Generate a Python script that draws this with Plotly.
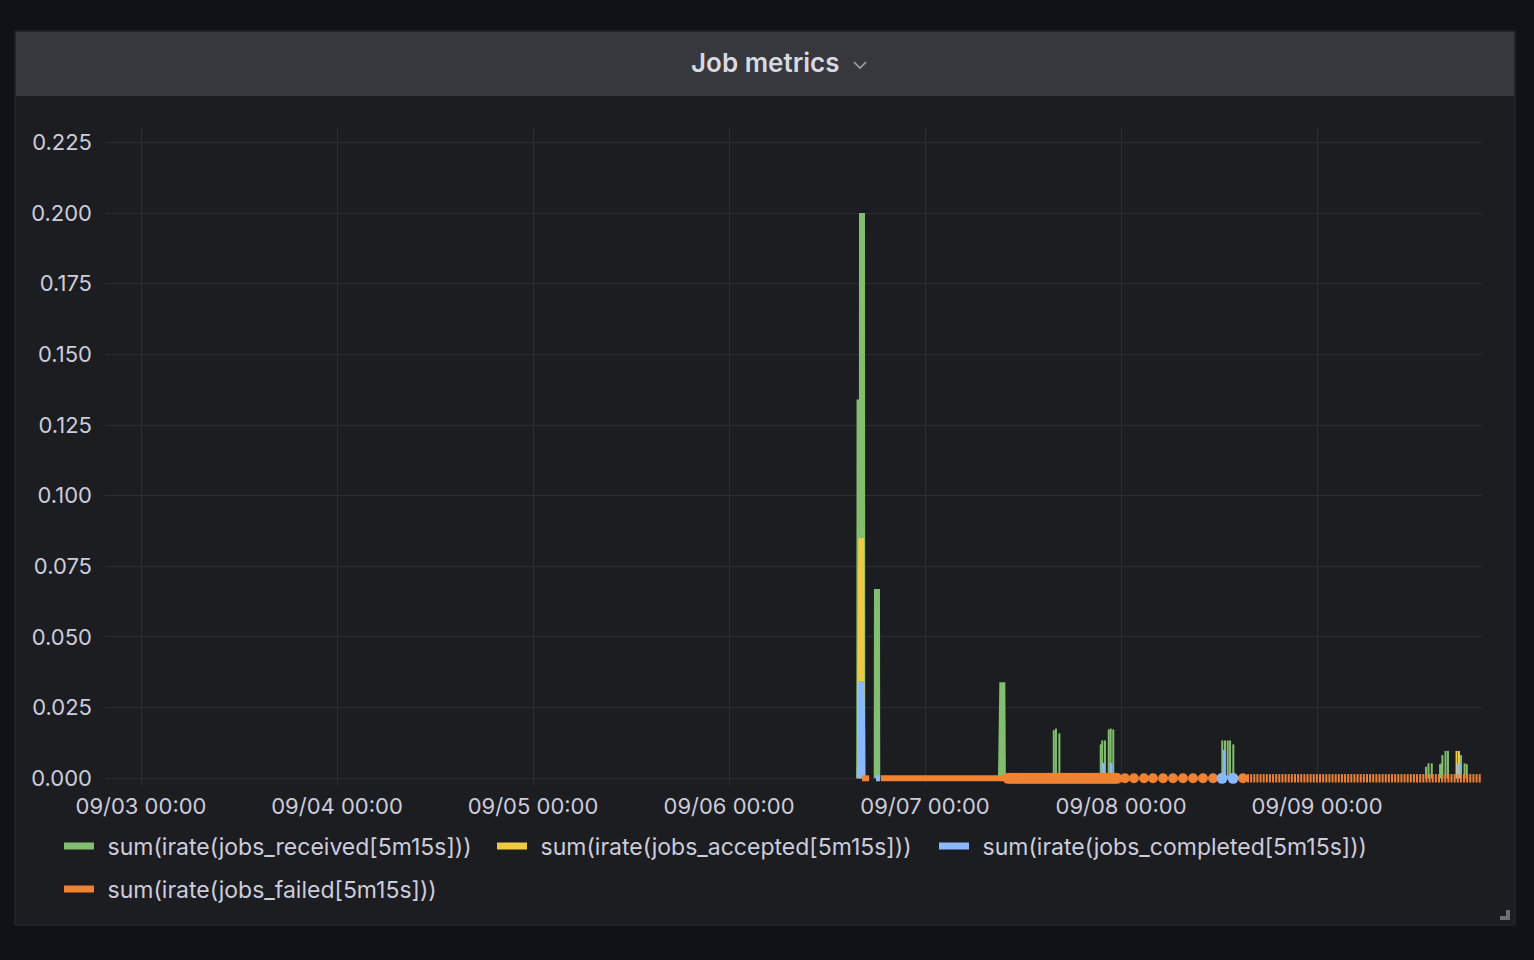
import plotly.graph_objects as go
import pandas as pd

# ---------------- data ----------------
SERIES_NAMES = [
    "sum(irate(jobs_received[5m15s]))",
    "sum(irate(jobs_accepted[5m15s]))",
    "sum(irate(jobs_completed[5m15s]))",
    "sum(irate(jobs_failed[5m15s]))",
]

# jobs_received - main spikes (None = gap in the series)
received_t = ["2023-09-06 15:57", "2023-09-06 15:59", "2023-09-06 16:01", None,
              "2023-09-06 16:15", "2023-09-06 16:17", "2023-09-06 16:19", None,
              "2023-09-06 18:05", "2023-09-06 18:07", "2023-09-06 18:09", None,
              "2023-09-07 09:18", "2023-09-07 09:22", "2023-09-07 09:28", "2023-09-07 09:32"]
received_v = [0, 0.134, 0, None,
              0, 0.200, 0, None,
              0, 0.067, 0, None,
              0, 0.034, 0.034, 0]
# jobs_received - isolated short samples
received_small_t = ["2023-09-07 15:46", "2023-09-07 16:02", "2023-09-07 16:27",
                    "2023-09-07 21:31", "2023-09-07 21:42", "2023-09-07 22:02", "2023-09-07 22:30", "2023-09-07 22:44", "2023-09-07 23:03",
                    "2023-09-08 12:24", "2023-09-08 12:44", "2023-09-08 13:04", "2023-09-08 13:21", "2023-09-08 13:45",
                    "2023-09-09 13:21", "2023-09-09 13:39", "2023-09-09 14:03", "2023-09-09 15:04", "2023-09-09 15:15",
                    "2023-09-09 15:21", "2023-09-09 15:44", "2023-09-09 16:02", "2023-09-09 17:38", "2023-09-09 18:04", "2023-09-09 18:20"]
received_small_v = [0.0170, 0.0176, 0.0159,
                    0.0120, 0.0134, 0.0134, 0.0173, 0.0176, 0.0173,
                    0.0134, 0.0134, 0.0134, 0.0134, 0.0120,
                    0.0041, 0.0053, 0.0053, 0.0050, 0.0053,
                    0.0082, 0.0097, 0.0097, 0.0082, 0.0053, 0.0050]

# jobs_accepted
accepted_t = ["2023-09-06 16:00", "2023-09-06 16:02", "2023-09-06 16:12", "2023-09-06 16:14"]
accepted_v = [0, 0.085, 0.085, 0]
accepted_small_t = ["2023-09-09 17:05", "2023-09-09 17:23"]
accepted_small_v = [0.0097, 0.0097]

# jobs_completed
completed_t = ["2023-09-06 16:00", "2023-09-06 16:02", "2023-09-06 16:12", "2023-09-06 16:18", "2023-09-06 16:20", None,
               "2023-09-06 18:00", "2023-09-06 18:30"]
completed_v = [0, 0.0344, 0.0344, 0.0165, 0, None,
               0, 0]
completed_small_t = ["2023-09-07 21:45", "2023-09-07 21:52", "2023-09-07 22:44", "2023-09-07 22:50",
                     "2023-09-08 12:37", "2023-09-09 17:12", "2023-09-09 17:27"]
completed_small_v = [0.0054, 0.0054, 0.0054, 0.0054, 0.0100, 0.0053, 0.0053]
completed_points_t = ["2023-09-08 12:22", "2023-09-08 13:43"]
completed_points_v = [0, 0]

# jobs_failed (always zero)
failed_t = ["2023-09-06 16:17", "2023-09-06 17:09", None, "2023-09-06 18:36", "2023-09-07 10:02"]
failed_v = [0, 0, None, 0, 0]
failed_dense_window = ("2023-09-07 10:10", "2023-09-07 23:30", "20min")   # sample times of dense points
failed_sparse_t = ["2023-09-08 00:29", "2023-09-08 01:35", "2023-09-08 02:49", "2023-09-08 03:55",
                   "2023-09-08 05:09", "2023-09-08 06:22", "2023-09-08 07:35", "2023-09-08 08:49",
                   "2023-09-08 10:02", "2023-09-08 11:16", "2023-09-08 14:56"]
failed_tick_window = ("2023-09-08 15:33", "2023-09-09 20:05", "23min")     # sample times of short samples

X_RANGE = ["2023-09-02 19:35:30", "2023-09-09 20:12"]
Y_RANGE = [-0.00237, 0.2301]
TITLE = "Job metrics"

# ---------------- style ----------------
GREEN, YELLOW, BLUE, ORANGE = "#82BD70", "#EEC942", "#8AB8FF", "#F08232"
TEXT = "#CCCCDC"
GRID = "#2C2D32"
PANEL = "#1C1D21"
HEADER = "#37383D"
OUTER = "#111217"
FONT = "Inter, Roboto, sans-serif"

W, H = 1534, 960
L, R, T, B = 105, 1482, 128, 785


def pxx(x):
    return (x - L) / (R - L)


def pxy(y):
    return (B - y) / (B - T)


def stems(times, values):
    xs, ys = [], []
    for t, v in zip(times, values):
        xs += [t, t, None]
        ys += [0, v, None]
    return xs, ys


fig = go.Figure()

# thick lines
for t, v, c in [(received_t, received_v, GREEN), (accepted_t, accepted_v, YELLOW),
                (completed_t, completed_v, BLUE)]:
    fig.add_trace(go.Scatter(x=t, y=v, mode="lines", line=dict(color=c, width=6),
                             connectgaps=False, showlegend=False, hoverinfo="skip"))

# thin short samples
for t, v, c in [(received_small_t, received_small_v, GREEN), (accepted_small_t, accepted_small_v, YELLOW),
                (completed_small_t, completed_small_v, BLUE)]:
    xs, ys = stems(t, v)
    fig.add_trace(go.Scatter(x=xs, y=ys, mode="lines", line=dict(color=c, width=2),
                             connectgaps=False, showlegend=False, hoverinfo="skip"))

# failed series at zero
fig.add_trace(go.Scatter(x=failed_t, y=failed_v, mode="lines", line=dict(color=ORANGE, width=6),
                         connectgaps=False, showlegend=False, hoverinfo="skip"))
dense_t = pd.date_range(*failed_dense_window[:2], freq=failed_dense_window[2])
fig.add_trace(go.Scatter(x=dense_t, y=[0] * len(dense_t), mode="markers",
                         marker=dict(color=ORANGE, size=11, line=dict(width=0)),
                         showlegend=False, hoverinfo="skip"))
fig.add_trace(go.Scatter(x=failed_sparse_t, y=[0] * len(failed_sparse_t), mode="markers",
                         marker=dict(color=ORANGE, size=10, line=dict(width=0)),
                         showlegend=False, hoverinfo="skip"))
fig.add_trace(go.Scatter(x=completed_points_t, y=completed_points_v, mode="markers",
                         marker=dict(color=BLUE, size=11, line=dict(width=0)),
                         showlegend=False, hoverinfo="skip"))
tick_t = pd.date_range(*failed_tick_window[:2], freq=failed_tick_window[2])
fig.add_trace(go.Scatter(x=tick_t, y=[0] * len(tick_t), mode="markers",
                         marker=dict(color=ORANGE, size=6, symbol="line-ns", line=dict(color=ORANGE, width=2)),
                         showlegend=False, hoverinfo="skip"))

# legend entries (one legend each so they sit like Grafana's)
legend_pos = [(59, 846), (492, 846), (934, 846), (59, 889)]
legend_names = ["legend", "legend2", "legend3", "legend4"]
PAD = "\u00a0\u200a"
for name, col, lg in zip(SERIES_NAMES, [GREEN, YELLOW, BLUE, ORANGE], legend_names):
    fig.add_trace(go.Scatter(x=[None], y=[None], mode="lines", name=PAD + name,
                             line=dict(color=col, width=7), legend=lg, showlegend=True))

legend_layout = {}
for lg, (lx, ly) in zip(legend_names, legend_pos):
    legend_layout[lg] = dict(x=pxx(lx), y=pxy(ly), xanchor="left", yanchor="middle",
                             orientation="h", bgcolor="rgba(0,0,0,0)", borderwidth=0,
                             itemwidth=30, font=dict(family=FONT, size=23, color=TEXT))

shapes = [
    # panel
    dict(type="rect", xref="paper", yref="paper", x0=pxx(15), x1=pxx(1515), y0=pxy(925), y1=pxy(31),
         fillcolor=PANEL, line=dict(color="#2A2B30", width=1), layer="below"),
    # header
    dict(type="rect", xref="paper", yref="paper", x0=pxx(16), x1=pxx(1514), y0=pxy(96), y1=pxy(32),
         fillcolor=HEADER, line=dict(width=0), layer="below"),
    # chevron
    dict(type="path", xref="paper", yref="paper",
         path=f"M{pxx(854)},{pxy(62)} L{pxx(860)},{pxy(68)} L{pxx(866)},{pxy(62)}",
         line=dict(color="#A0A1AA", width=1.6), layer="above"),
    # resize handle
    dict(type="path", xref="paper", yref="paper",
         path=f"M{pxx(1500)},{pxy(916)} L{pxx(1506)},{pxy(916)} L{pxx(1506)},{pxy(910)} L{pxx(1510)},{pxy(910)} "
              f"L{pxx(1510)},{pxy(920)} L{pxx(1500)},{pxy(920)} Z",
         fillcolor="#6E6E72", line=dict(width=0), layer="above"),
]

fig.update_layout(
    width=W, height=H, autosize=False,
    margin=dict(l=L, r=W - R, t=T, b=H - B, pad=0),
    paper_bgcolor=OUTER, plot_bgcolor="rgba(0,0,0,0)",
    font=dict(family=FONT, size=22, color=TEXT),
    shapes=shapes,
    annotations=[dict(text=TITLE, x=pxx(765), y=pxy(63), xref="paper", yref="paper",
                      xanchor="center", yanchor="middle", showarrow=False,
                      font=dict(family=FONT, size=26, color="#D8D9E3", weight=600))],
    xaxis=dict(type="date", range=X_RANGE, tick0="2023-09-03", dtick=86400000,
               tickformat="%m/%d %H:%M", showgrid=True, gridcolor=GRID, gridwidth=1,
               zeroline=False, showline=False, ticks="", ticklabelstandoff=6,
               tickfont=dict(family=FONT, size=22, color=TEXT), fixedrange=True),
    yaxis=dict(range=Y_RANGE, tick0=0, dtick=0.025, tickformat=".3f", showgrid=True,
               gridcolor=GRID, gridwidth=1, zeroline=False, showline=False, ticks="",
               ticklabelstandoff=12, tickfont=dict(family=FONT, size=22, color=TEXT), fixedrange=True),
    **legend_layout,
)

fig.write_html(
    "out.html",
    config={"displayModeBar": False},
    post_script="document.body.style.margin='0';document.body.style.background='#111217';"
                "document.body.style.overflow='hidden';",
)
